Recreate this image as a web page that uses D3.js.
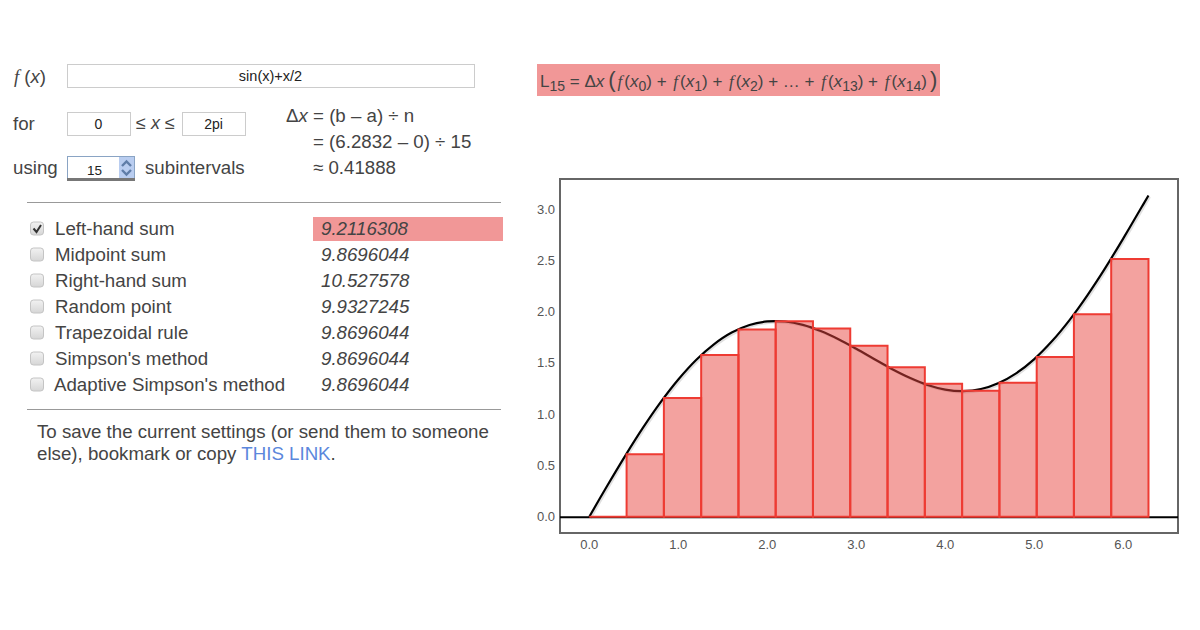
<!DOCTYPE html>
<html>
<head>
<meta charset="utf-8">
<script src="https://cdn.jsdelivr.net/npm/d3@7"></script>
<style>
  html, body { margin: 0; padding: 0; background: #fff; }
  svg { display: block; }
  text { font-family: "Liberation Sans", Arial, sans-serif; fill: #444; }
  .axis text { font-size: 13px; fill: #555; }
</style>
</head>
<body>
<div id="chartContainer"></div>
<script>
// values
var edges = [0, 0.419, 0.838, 1.257, 1.676, 2.094, 2.513, 2.932, 3.351, 3.770, 4.189, 4.608, 5.027, 5.445, 5.864, 6.283];
var heights = [0, 0.61, 1.16, 1.58, 1.83, 1.91, 1.84, 1.67, 1.46, 1.30, 1.23, 1.31, 1.56, 1.98, 2.52];
var curveX = [0, 0.2, 0.4, 0.6, 0.8, 1.0, 1.2, 1.4, 1.6, 1.8, 2.0, 2.2, 2.4, 2.6, 2.8, 3.0, 3.2, 3.4, 3.6, 3.8, 4.0, 4.2, 4.4, 4.6, 4.8, 5.0, 5.2, 5.4, 5.6, 5.8, 6.0, 6.2, 6.283];
var curveY = [0, 0.30, 0.59, 0.865, 1.117, 1.341, 1.532, 1.685, 1.80, 1.874, 1.909, 1.908, 1.875, 1.815, 1.735, 1.641, 1.542, 1.444, 1.358, 1.288, 1.243, 1.228, 1.248, 1.307, 1.404, 1.541, 1.717, 1.927, 2.169, 2.435, 2.721, 3.017, 3.14];
var xTicks = [0, 1, 2, 3, 4, 5, 6];
var yTicks = [0, 0.5, 1, 1.5, 2, 2.5, 3];
var methodNames = ["Left-hand sum", "Midpoint sum", "Right-hand sum", "Random point", "Trapezoidal rule", "Simpson's method", "Adaptive Simpson's method"];
var methodValues = ["9.2116308", "9.8696044", "10.527578", "9.9327245", "9.8696044", "9.8696044", "9.8696044"];

var width = 1200;
var height = 630;
var highlight = "#f19797";
var bodySize = 18.7;

var svg = d3.select("#chartContainer").append("svg")
    .attr("width", width)
    .attr("height", height);

var defs = svg.append("defs");
var boxGrad = defs.append("linearGradient").attr("id", "boxGrad").attr("x1", 0).attr("x2", 0).attr("y1", 0).attr("y2", 1);
boxGrad.append("stop").attr("offset", "0%").attr("stop-color", "#f2f2f2");
boxGrad.append("stop").attr("offset", "100%").attr("stop-color", "#d6d6d6");

// helper for the text boxes
function inputBox(x, y, w, h, label, size) {
    svg.append("rect")
        .attr("x", x + 0.5).attr("y", y + 0.5)
        .attr("width", w).attr("height", h)
        .attr("fill", "#fff")
        .attr("stroke", "#ccc");
    svg.append("text")
        .attr("x", x + w / 2).attr("y", y + h / 2 + 5)
        .attr("text-anchor", "middle")
        .attr("font-size", size)
        .style("fill", "#222")
        .text(label);
}

function plain(x, y, str, size) {
    return svg.append("text")
        .attr("x", x).attr("y", y)
        .attr("font-size", size || bodySize)
        .text(str);
}

// ########### left panel #############
var fLabel = plain(14, 83, "");
fLabel.append("tspan").style("font-family", "Liberation Serif").attr("font-style", "italic").text("f");
fLabel.append("tspan").attr("dx", 5).text("(");
fLabel.append("tspan").attr("font-style", "italic").text("x");
fLabel.append("tspan").text(")");

inputBox(67, 64, 407, 23, "sin(x)+x/2", 14.5);

plain(13, 130, "for");
inputBox(67, 112, 63, 23, "0", 14);
var leq = plain(136, 129, "", 18);
leq.append("tspan").text("≤ ");
leq.append("tspan").attr("font-style", "italic").text("x");
leq.append("tspan").text(" ≤");
inputBox(182, 112, 63, 23, "2pi", 14);

var dx = plain(286, 122, "");
dx.append("tspan").text("Δ");
dx.append("tspan").attr("font-style", "italic").text("x");
dx.append("tspan").text(" = (b – a) ÷ n");
plain(313, 148, "= (6.2832 – 0) ÷ 15");
plain(313, 174, "≈ 0.41888");

plain(13, 174, "using");
svg.append("rect").attr("x", 67.5).attr("y", 156.5).attr("width", 67).attr("height", 23)
    .attr("fill", "#fff").attr("stroke", "#8aa4c4");
svg.append("rect").attr("x", 67).attr("y", 178).attr("width", 68).attr("height", 3).attr("fill", "#777");
svg.append("text").attr("x", 94.5).attr("y", 174.5).attr("text-anchor", "middle")
    .attr("font-size", 13.5).style("fill", "#222").text("15");
svg.append("rect").attr("x", 119).attr("y", 157).attr("width", 15).attr("height", 21).attr("fill", "#b9cdf0");
svg.append("path").attr("d", "M122 166l4.5-4.5 4.5 4.5").attr("fill", "none").attr("stroke", "#5f7da8").attr("stroke-width", 2.4);
svg.append("path").attr("d", "M122 170l4.5 4.5 4.5-4.5").attr("fill", "none").attr("stroke", "#5f7da8").attr("stroke-width", 2.4);
plain(145, 174, "subintervals");

svg.append("line").attr("x1", 27).attr("x2", 501).attr("y1", 202.5).attr("y2", 202.5).attr("stroke", "#999");
svg.append("line").attr("x1", 27).attr("x2", 501).attr("y1", 409.5).attr("y2", 409.5).attr("stroke", "#999");

svg.append("rect").attr("x", 313).attr("y", 217).attr("width", 190).attr("height", 24).attr("fill", highlight);

var rows = svg.append("g").selectAll("g")
    .data(methodNames)
    .enter()
    .append("g")
    .attr("transform", function (d, i) { return "translate(0," + (228.5 + i * 26) + ")"; });

rows.append("rect")
    .attr("x", 30.5).attr("y", -6.5)
    .attr("width", 13).attr("height", 13).attr("rx", 3)
    .attr("fill", "url(#boxGrad)")
    .attr("stroke", "#c4c4c4");

rows.append("text")
    .attr("x", function (d, i) { return i == 6 ? 54 : 55; })
    .attr("y", 6.5)
    .attr("font-size", bodySize)
    .text(function (d) { return d; });

rows.append("text")
    .attr("x", 321)
    .attr("y", 6.5)
    .attr("font-size", bodySize)
    .attr("font-style", "italic")
    .text(function (d, i) { return methodValues[i]; });

// tick of the first checkbox
svg.append("path")
    .attr("d", "M33.5 228.5l3 3.5 4.5-7")
    .attr("fill", "none").attr("stroke", "#333").attr("stroke-width", 2);

plain(37, 438, "To save the current settings (or send them to someone");
var linkLine = plain(37, 460, "else), bookmark or copy ");
linkLine.append("tspan").style("fill", "#5b87dc").text("THIS LINK");
linkLine.append("tspan").text(".");

// ########### formula #############
svg.append("rect").attr("x", 537).attr("y", 64).attr("width", 403).attr("height", 32).attr("fill", highlight);

var formula = svg.append("text").attr("x", 540).attr("y", 87).attr("font-size", 17);
function fPiece(sub) {
    formula.append("tspan").style("font-family", "Liberation Serif").attr("font-style", "italic").attr("dx", 2).text("f");
    formula.append("tspan").attr("dx", 2).text("(");
    formula.append("tspan").attr("font-style", "italic").text("x");
    formula.append("tspan").attr("font-size", 14).attr("dy", 4).text(sub);
    formula.append("tspan").attr("dy", -4).text(")");
}
formula.append("tspan").text("L");
formula.append("tspan").attr("font-size", 14).attr("dy", 4).text("15");
formula.append("tspan").attr("dy", -4).text(" = Δ");
formula.append("tspan").attr("font-style", "italic").text("x");
formula.append("tspan").attr("font-size", 22).attr("dx", 4).text("(");
formula.append("tspan").attr("dx", 3).text("");
fPiece("0");
formula.append("tspan").text(" + ");
fPiece("1");
formula.append("tspan").text(" + ");
fPiece("2");
formula.append("tspan").text(" + … + ");
fPiece("13");
formula.append("tspan").text(" + ");
fPiece("14");
formula.append("tspan").attr("font-size", 22).attr("dx", 3).text(")");

// ########### plot #############
var frame = { left: 560, right: 1178, top: 179, bottom: 533 };

var x = d3.scaleLinear()
    .domain([0, 6])
    .range([589.3, 1123.3]);

var y = d3.scaleLinear()
    .domain([0, 3])
    .range([516.7, 209.8]);

svg.append("rect")
    .attr("x", frame.left).attr("y", frame.top)
    .attr("width", frame.right - frame.left).attr("height", frame.bottom - frame.top)
    .attr("fill", "#fff")
    .attr("stroke", "#666")
    .attr("stroke-width", 2);

var xAxis = svg.append("g")
    .attr("class", "axis")
    .attr("transform", "translate(-0.5," + frame.bottom + ")")
    .call(d3.axisBottom(x).tickValues(xTicks).tickFormat(d3.format(".1f")).tickSize(0).tickPadding(7));
xAxis.select(".domain").remove();

var yAxis = svg.append("g")
    .attr("class", "axis")
    .attr("transform", "translate(" + frame.left + ",-0.5)")
    .call(d3.axisLeft(y).tickValues(yTicks).tickFormat(d3.format(".1f")).tickSize(0).tickPadding(5));
yAxis.select(".domain").remove();

// zero line
svg.append("line")
    .attr("x1", frame.left).attr("x2", frame.right)
    .attr("y1", y(0) + 0.5).attr("y2", y(0) + 0.5)
    .attr("stroke", "#000")
    .attr("stroke-width", 2);

var curvePoints = d3.zip(curveX, curveY);
var line = d3.line()
    .x(function (d) { return x(d[0]); })
    .y(function (d) { return y(d[1]); })
    .curve(d3.curveCatmullRom);

// soft shadow under the curve
svg.append("path")
    .attr("d", line(curvePoints))
    .attr("fill", "none")
    .attr("stroke", "#000")
    .attr("stroke-opacity", 0.12)
    .attr("stroke-width", 2)
    .attr("transform", "translate(1.5,1.5)");

svg.append("path")
    .attr("d", line(curvePoints))
    .attr("fill", "none")
    .attr("stroke", "#000")
    .attr("stroke-width", 2.2);

// paths, not rects: the first bar has zero height and still shows its outline
svg.selectAll(".bar")
    .data(heights)
    .enter()
    .append("path")
    .attr("class", "bar")
    .attr("d", function (d, i) {
        return "M" + x(edges[i]) + "," + y(0) +
            "L" + x(edges[i]) + "," + y(d) +
            "L" + x(edges[i + 1]) + "," + y(d) +
            "L" + x(edges[i + 1]) + "," + y(0) + "Z";
    })
    .attr("fill", "#e8453f")
    .attr("fill-opacity", 0.5)
    .attr("stroke", "#ee3b33")
    .attr("stroke-width", 2);
</script>
</body>
</html>
